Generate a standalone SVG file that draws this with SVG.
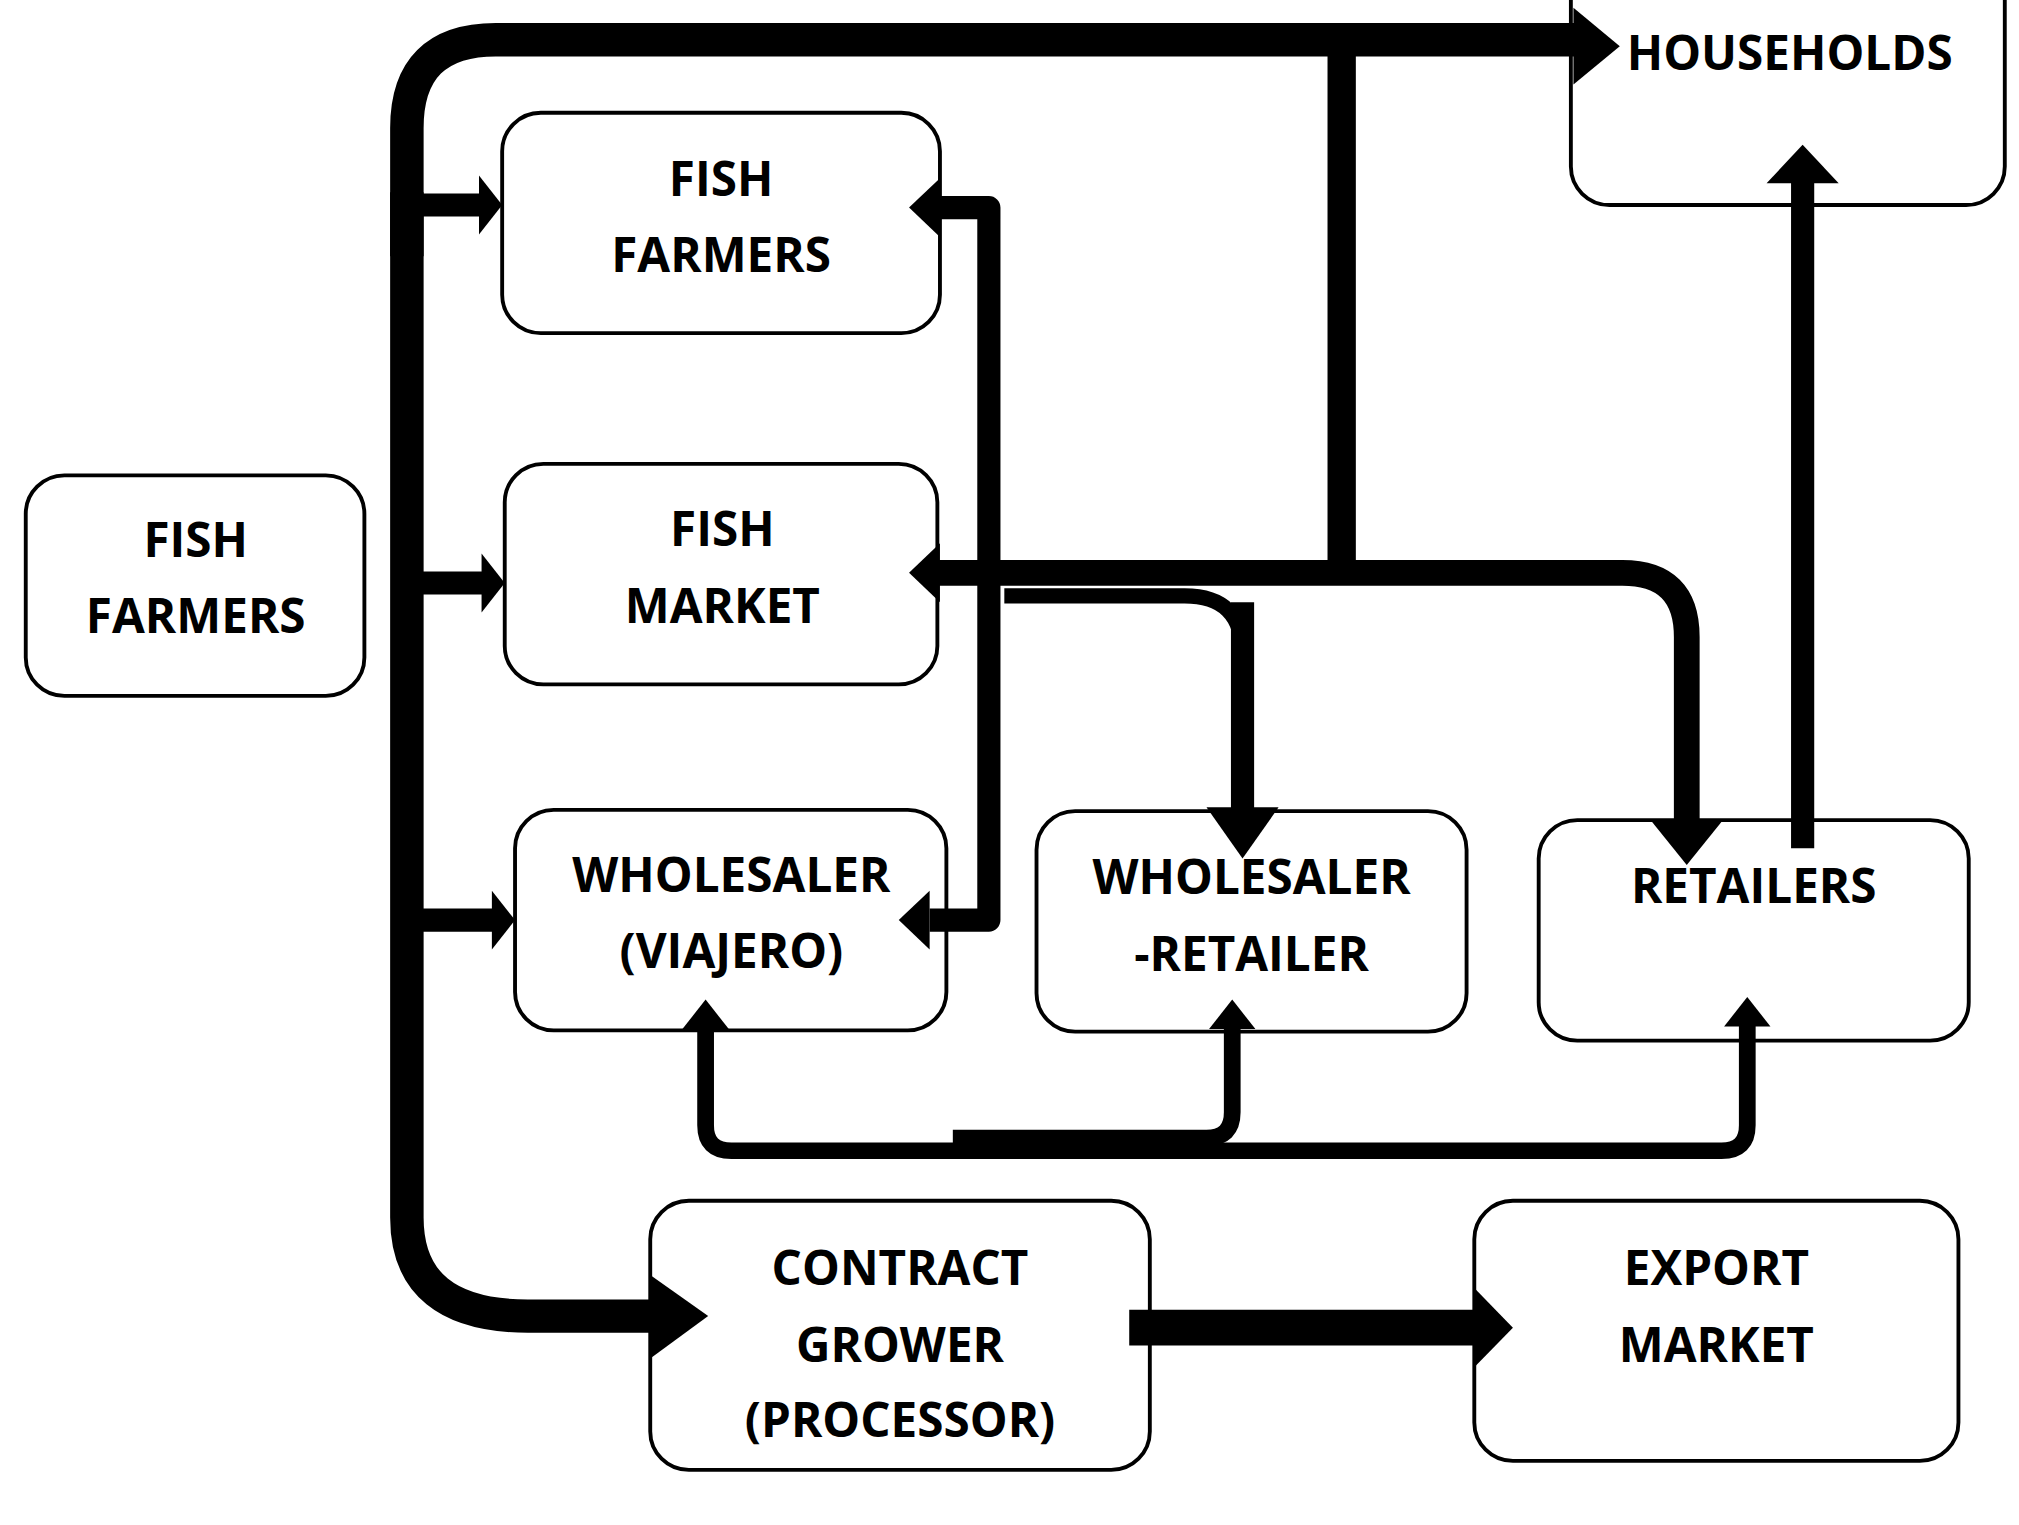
<svg xmlns="http://www.w3.org/2000/svg" width="2019" height="1525" viewBox="0 0 2019 1525">
<style>
.box{fill:#fff;stroke:#000;stroke-width:3}
.t{font-family:"Open Sans","Liberation Sans",sans-serif;font-weight:bold;font-size:37px;text-anchor:middle;fill:#000}
.l{fill:none;stroke:#000;stroke-linejoin:round}
</style>
<rect width="2019" height="1525" fill="#fff"/>
<g transform="scale(1.2876 1.2815)">
<g id="n1"><rect class="box" x="20" y="371" width="263" height="172" rx="30"/><text class="t" x="152" y="435">FISH</text><text class="t" x="152" y="494">FARMERS</text></g>
<g id="n2"><rect class="box" x="390" y="88" width="340" height="172" rx="30"/><text class="t" x="560" y="153">FISH</text><text class="t" x="560" y="212">FARMERS</text></g>
<g id="n3"><rect class="box" x="392" y="362" width="336" height="172" rx="30"/><text class="t" x="561" y="426">FISH</text><text class="t" x="561" y="486">MARKET</text></g>
<g id="n4"><rect class="box" x="400" y="632" width="335" height="172" rx="30"/><text class="t" x="568" y="696">WHOLESALER</text><text class="t" x="568" y="755">(VIAJERO)</text></g>
<g id="n5"><rect class="box" x="805" y="633" width="334" height="172" rx="30"/><text class="t" x="972" y="698">WHOLESALER</text><text class="t" x="972" y="758">-RETAILER</text></g>
<g id="n6"><rect class="box" x="1195" y="640" width="334" height="172" rx="30"/><text class="t" x="1362" y="705">RETAILERS</text></g>
<g id="n7"><rect class="box" x="1220" y="-30" width="337" height="190" rx="30"/><text class="t" x="1390" y="55">HOUSEHOLDS</text></g>
<g id="n8"><rect class="box" x="505" y="937" width="388" height="210" rx="30"/><text class="t" x="699" y="1003">CONTRACT</text><text class="t" x="699" y="1063">GROWER</text><text class="t" x="699" y="1121">(PROCESSOR)</text></g>
<g id="n9"><rect class="box" x="1145" y="937" width="376" height="203" rx="30"/><text class="t" x="1333" y="1003">EXPORT</text><text class="t" x="1333" y="1063">MARKET</text></g>
<g id="connectors">
<path class="l" stroke-width="26" d="M316,200 V100 Q316,31 385,31 H1228"/>
<path class="l" stroke-width="26" d="M316,150 V950 Q316,1027 410,1027 H510"/>
<polygon points="1222,6 1258,36 1222,66"/>
<path class="l" stroke-width="22" d="M1042,42 V440"/>
<polygon points="505,995 550,1027 505,1060"/>
<path class="l" stroke-width="18" d="M316,160 H378"/>
<polygon points="372,137 390,160 372,183"/>
<path class="l" stroke-width="18" d="M316,455 H380"/>
<polygon points="374,432 392,455 374,478"/>
<path class="l" stroke-width="18" d="M316,718 H388"/>
<polygon points="382,695 400,718 382,741"/>
<path class="l" stroke-width="18" d="M722,162 H768 V718 H722"/>
<polygon points="730,139 706,162 730,185"/>
<polygon points="722,695 698,718 722,741"/>
<path class="l" stroke-width="20" d="M722,447 H1260 Q1310,447 1310,497 V645"/>
<polygon points="730,424 706,447 730,470"/>
<polygon points="1282,640 1310,675 1338,640"/>
<path class="l" stroke-width="12" d="M780,465 H920 Q965,465 965,510 V635"/>
<path class="l" stroke-width="18" d="M965,470 V635"/>
<polygon points="937,630 965,670 993,630"/>
<path class="l" stroke-width="18" d="M1400,662 V138"/>
<polygon points="1372,143 1400,113 1428,143"/>
<path class="l" stroke-width="13" d="M548,795 V878 Q548,898 568,898 H1337 Q1357,898 1357,878 V795"/>
<path class="l" stroke-width="13" d="M957,795 V868 Q957,888 937,888 H740"/>
<polygon points="530,803 548,780 566,803"/>
<polygon points="939,803 957,780 975,803"/>
<polygon points="1339,801 1357,778 1375,801"/>
<path class="l" stroke-width="28" d="M877,1036 H1150"/>
<polygon points="1145,1005 1175,1036 1145,1067"/>
</g>
</g>
</svg>
